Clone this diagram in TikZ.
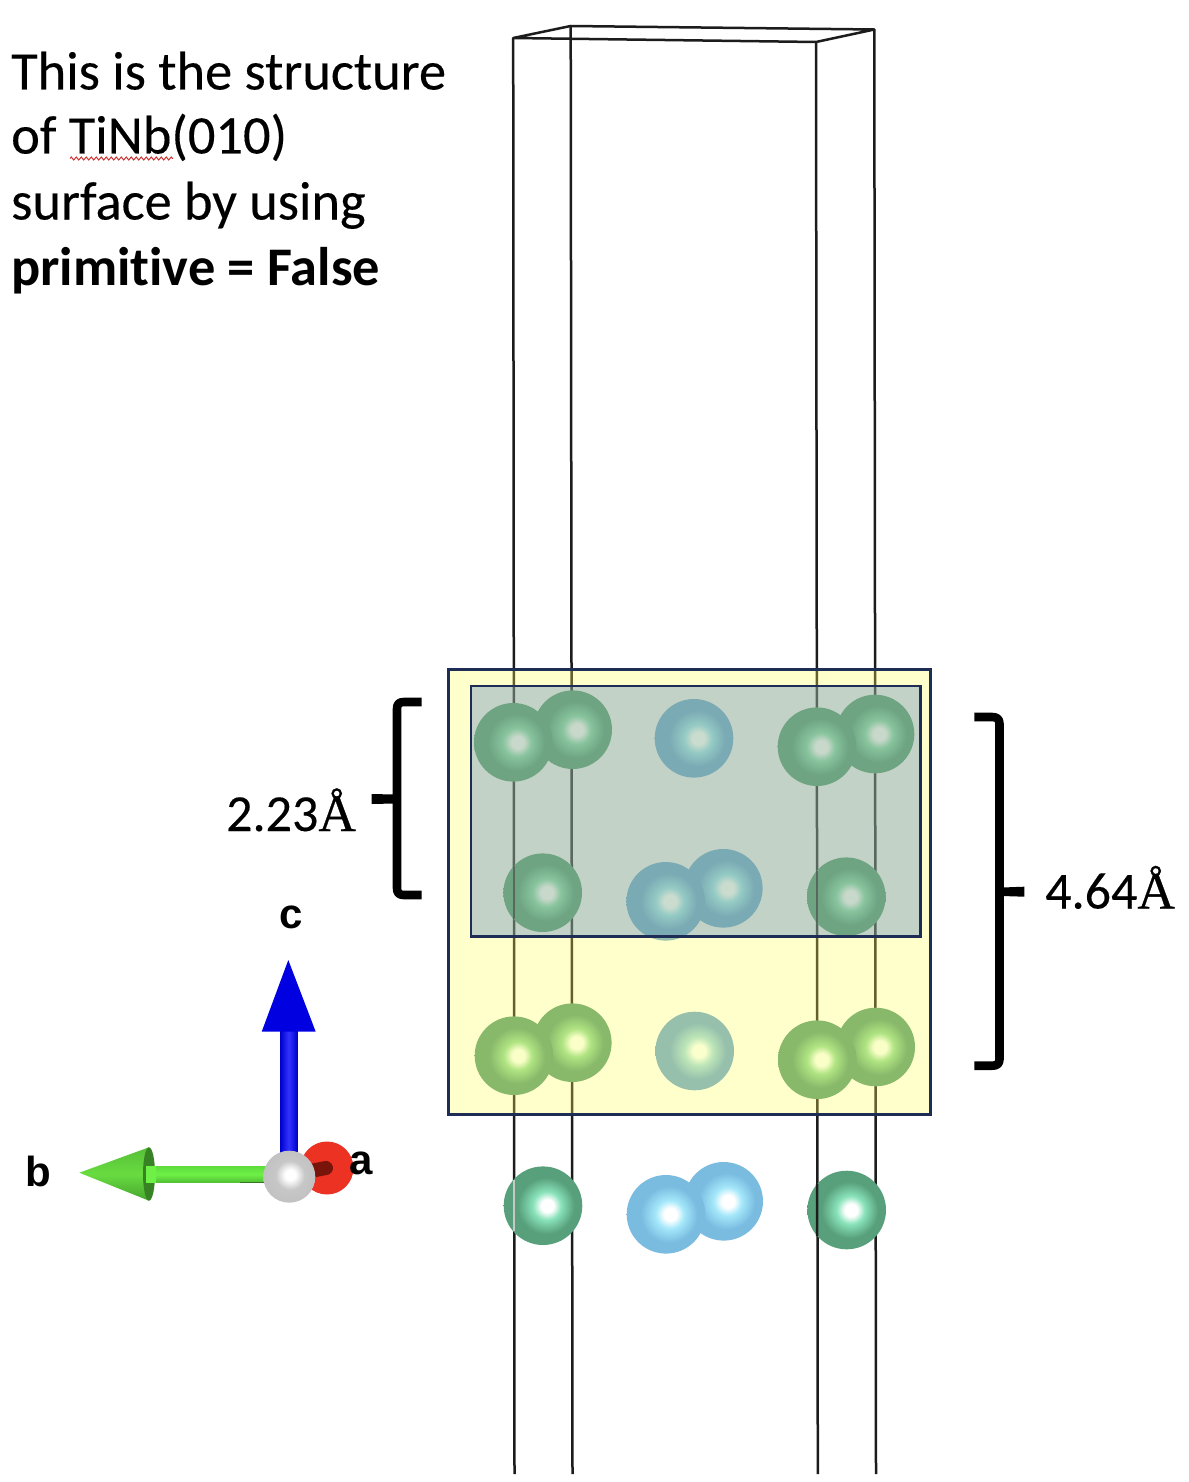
\documentclass[tikz,border=0pt]{standalone}
\usepackage{fontspec}
\setmainfont{Carlito}[Ligatures=NoCommon,FakeBold=0.25,BoldFeatures={FakeBold=0}]
\newfontfamily\angfont{Liberation Serif}[FakeBold=0.6]
\newfontfamily\axfont{Liberation Sans}
\usetikzlibrary{decorations.pathmorphing}
\newcommand{\mkball}[5]{%
  \definecolor{#1c}{RGB}{#2}\definecolor{#1g}{RGB}{#3}\definecolor{#1b}{RGB}{#4}\definecolor{#1r}{RGB}{#5}%
  \pgfdeclareradialshading{#1}{\pgfpoint{3bp}{0bp}}{color(0bp)=(#1c); color(4bp)=(#1c); color(9bp)=(#1g); color(18bp)=(#1b); color(30bp)=(#1b); color(50bp)=(#1r)}}
\mkball{ingreen}{200,216,202}{136,196,158}{110,164,130}{100,142,112}
\mkball{inblue}{202,220,206}{148,202,196}{122,170,180}{110,146,152}
\mkball{yegreen}{250,255,200}{176,228,130}{136,184,106}{118,152,84}
\mkball{yeblue}{250,255,205}{190,230,184}{150,192,172}{126,156,132}
\mkball{wgreen}{255,255,255}{136,226,186}{88,160,124}{56,110,84}
\mkball{wblue}{255,255,255}{165,232,250}{122,188,224}{84,130,162}
\pgfdeclareradialshading{grayball}{\pgfpoint{1bp}{2bp}}{color(0bp)=(white); color(5bp)=(white); color(14bp)=(black!22); color(36bp)=(black!26); color(50bp)=(black!48)}
\newcommand{\ball}[3]{\shade[shading=#1] (#2,#3) circle[radius=39.3];}
\newcommand{\framelines}{%
  \draw (fa) -- (fab); \draw (fb) -- (fbb); \draw (fc) -- (fcb); \draw (fd) -- (fdb);}
\definecolor{boxline}{RGB}{30,45,85}
\definecolor{yebox}{RGB}{255,255,204}
\definecolor{inbox}{RGB}{194,210,198}
\definecolor{frameblk}{RGB}{28,28,28}
\definecolor{frameye}{RGB}{100,95,45}
\definecolor{framein}{RGB}{88,104,94}
\tikzset{
  framestyle/.style={line width=2.5pt,color=frameblk,line join=round},
  boxborder/.style={draw=boxline,line width=2.8pt},
  brace/.style={line width=8.6pt,line join=round,draw=black},
  txt/.style={anchor=base west,inner sep=0pt,font=\fontsize{54.4}{58}\selectfont},
  dist/.style={anchor=base west,inner sep=0pt,font=\fontsize{52}{56}\selectfont},
  axlabel/.style={inner sep=0pt,font=\axfont\bfseries\fontsize{42}{45}\selectfont}
}
\begin{document}
\begin{tikzpicture}[x=1pt,y=-1pt]
\useasboundingbox[fill=white] (0,0) rectangle (1188,1482);
% frame corners
\coordinate (fa) at (513.2,38);  \coordinate (fab) at (514.5,1474);
\coordinate (fb) at (570.7,26);  \coordinate (fbb) at (572.5,1474);
\coordinate (fc) at (816,42);    \coordinate (fcb) at (817.8,1474);
\coordinate (fd) at (874.3,29.5);\coordinate (fdb) at (876,1474);
\begin{scope}[framestyle]
  \framelines
  \draw (fa) -- (fc) -- (fd) -- (fb) -- cycle;
\end{scope}
% bottom row atoms
\ball{wblue}{723.7}{1201.3}
\ball{wblue}{666}{1214.3}
\ball{wgreen}{543}{1205.7}
\ball{wgreen}{846.7}{1210}
\draw[line width=1.6pt,color=black!22] (514.2,1180) -- (514.2,1231);
\draw[framestyle] (817,1184) -- (817.1,1236);
% yellow box
\fill[yebox] (448.3,669.3) rectangle (930.7,1114.3);
\begin{scope}
  \clip (448.3,669.3) rectangle (930.7,1114.3);
  \begin{scope}[framestyle,color=frameye] \framelines \end{scope}
\end{scope}
\ball{yegreen}{572.3}{1042.7}
\ball{yegreen}{514}{1055.7}
\ball{yeblue}{694.7}{1051}
\ball{yegreen}{875.7}{1047}
\ball{yegreen}{817.3}{1059.7}
\ball{yeblue}{665.7}{901.3}
% inner box
\fill[inbox] (471,686) rectangle (920.7,936.7);
\begin{scope}
  \clip (471,686) rectangle (920.7,936.7);
  \begin{scope}[framestyle,color=framein] \framelines \end{scope}
  \ball{ingreen}{572.7}{729.7}
  \ball{ingreen}{513.3}{742.3}
  \ball{inblue}{694}{738.3}
  \ball{ingreen}{875}{734}
  \ball{ingreen}{817}{746.7}
  \ball{ingreen}{542.7}{892.7}
  \ball{inblue}{723.3}{888.3}
  \ball{inblue}{665.7}{901.3}
  \ball{ingreen}{846.3}{896.7}
  \draw[line width=2.3pt,color=framein] (513.8,866) -- (513.8,919);
  \draw[line width=2.3pt,color=framein] (816.8,871) -- (816.8,923);
\end{scope}
\draw[boxborder] (448.3,669.3) rectangle (930.7,1114.3);
\draw[boxborder] (471,686) rectangle (920.7,936.7);
% braces
\coordinate (lbt) at (421.7,702); \coordinate (lbb) at (421.7,895); \coordinate (lbtip) at (371.7,799);
\draw[brace] (lbt) -- (404,702) .. controls (399,702) and (397,704) .. (397,709) -- (397,888) .. controls (397,893) and (399,895) .. (404,895) -- (lbb);
\fill (lbtip) ++(0,-5) -- ++(0,10) -- (394,803.5) -- (394,794.5) -- cycle;
\coordinate (rbt) at (974.3,717); \coordinate (rbb) at (974.3,1065.7); \coordinate (rbtip) at (1024.3,891.7);
\draw[brace] (rbt) -- (992,717) .. controls (997,717) and (999.5,719) .. (999.5,724) -- (999.5,1059) .. controls (999.5,1064) and (997,1065.7) .. (992,1065.7) -- (rbb);
\fill (rbtip) ++(0,-5) -- ++(0,10) -- (1002,896) -- (1002,887.5) -- cycle;
% text
\node[txt] (t1) at (11,89.5) {This is the structure};
\node[txt] (t2) at (11,153.5) {of TiNb(010)};
\node[txt] (t3) at (11,219.5) {surface by using};
\node[txt] (t4) at (11,285.5) {\bfseries primitive = False};
\draw[color=red!75!black!80,line width=1pt,decorate,decoration={zigzag,segment length=5pt,amplitude=1.5pt}] (70,158.5) -- (173,158.5);
\node[dist] (d1) at (226,831) {2.23{\angfont Å}};
\node[dist] (d2) at (1045,908.5) {4.64{\angfont Å}};
% axes
\fill[color={rgb,255:red,235;green,50;blue,35}] (327,1168) circle[radius=26.5];
\draw[line width=14pt,line cap=round,color={rgb,255:red,120;green,20;blue,10}] (305,1172) -- (326,1168);
\shade[left color={rgb,255:red,0;green,0;blue,205},right color={rgb,255:red,0;green,0;blue,205},middle color={rgb,255:red,50;green,50;blue,255}] (280,1030) rectangle (297.3,1160);
\fill[color={rgb,255:red,0;green,0;blue,225}] (288.3,960) -- (315.7,1031.7) -- (261.7,1031.7) -- cycle;
\shade[top color={rgb,255:red,95;green,220;blue,60},bottom color={rgb,255:red,80;green,190;blue,50},middle color={rgb,255:red,110;green,240;blue,70}] (146,1166) rectangle (270,1182.7);
\draw[line width=1pt,color={rgb,255:red,50;green,120;blue,35}] (240,1182.7) -- (270,1182.7);
\shade[top color={rgb,255:red,85;green,190;blue,55},bottom color={rgb,255:red,70;green,165;blue,45},middle color={rgb,255:red,105;green,220;blue,65}] (79.3,1172.7) -- (149,1147.3) -- (149,1200.7) -- cycle;
\fill[color={rgb,255:red,55;green,130;blue,35}] (149,1174) ellipse[x radius=6,y radius=26.7];
\fill[color={rgb,255:red,110;green,240;blue,70}] (146,1166) rectangle (156,1182.7);
\shade[shading=grayball] (289.3,1176.7) circle[radius=26];
\node[axlabel] (lc) at (291,917) {c};
\node[axlabel] (lb) at (38,1171) {b};
\node[axlabel] (la) at (360.7,1163) {a};
\end{tikzpicture}
\end{document}
